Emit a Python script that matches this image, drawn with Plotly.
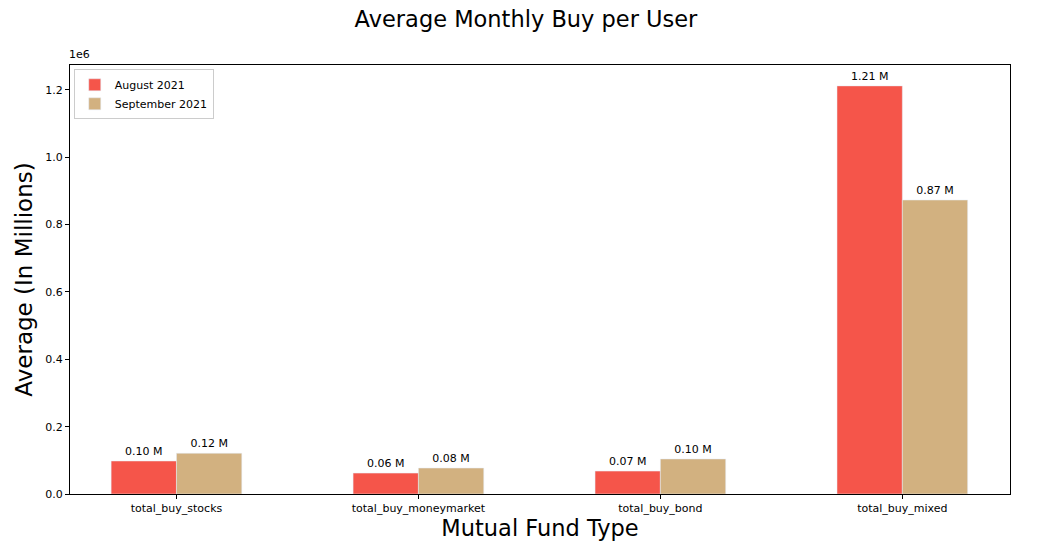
import plotly.graph_objects as go

categories = ["total_buy_stocks", "total_buy_moneymarket", "total_buy_bond", "total_buy_mixed"]
aug_2021 = [98000, 62000, 68000, 1212000]
sep_2021 = [121000, 77000, 104000, 873000]
aug_labels = ["0.10 M", "0.06 M", "0.07 M", "1.21 M"]
sep_labels = ["0.12 M", "0.08 M", "0.10 M", "0.87 M"]
y_ticks = [0, 200000, 400000, 600000, 800000, 1000000, 1200000]
y_tick_labels = ["0.0", "0.2", "0.4", "0.6", "0.8", "1.0", "1.2"]

xpos = list(range(len(categories)))
font = "DejaVu Sans"

fig = go.Figure()
fig.add_trace(go.Bar(x=xpos, y=aug_2021, name="August 2021", marker_color="#F5554A",
                     text=aug_labels, textposition="outside", cliponaxis=False,
                     textfont=dict(size=11, color="#000000")))
fig.add_trace(go.Bar(x=xpos, y=sep_2021, name="September 2021", marker_color="#D2B180",
                     text=sep_labels, textposition="outside", cliponaxis=False,
                     textfont=dict(size=11, color="#000000")))

fig.update_layout(
    width=1052, height=547,
    margin=dict(l=70, r=42, t=65, b=53),
    paper_bgcolor="white", plot_bgcolor="white",
    barmode="group", bargap=0.46, bargroupgap=0,
    font=dict(family=font, size=11, color="#000000"),
    title=dict(text="Average Monthly Buy per User", x=0.5, xanchor="center",
               y=0.965, yanchor="middle", font=dict(size=22.5, family=font)),
    legend=dict(x=0.004, y=0.99, xanchor="left", yanchor="top",
                bgcolor="white", bordercolor="#cccccc", borderwidth=1,
                font=dict(size=11), tracegroupgap=0, itemwidth=30),
    xaxis=dict(range=[-0.44, 3.445], tickvals=xpos, ticktext=categories,
               showgrid=False, zeroline=False, showline=True, linecolor="#000000",
               linewidth=1, mirror=True, ticks="outside", ticklen=4, tickcolor="#000000",
               title=dict(text="Mutual Fund Type", font=dict(size=22.5), standoff=3)),
    yaxis=dict(range=[0, 1274000], tickvals=y_ticks, ticktext=y_tick_labels,
               showgrid=False, zeroline=False, showline=True, linecolor="#000000",
               linewidth=1, mirror=True, ticks="outside", ticklen=4, tickcolor="#000000",
               title=dict(text="Average (In Millions)", font=dict(size=23), standoff=6)),
    annotations=[dict(text="1e6", xref="paper", yref="paper", x=-0.003, y=1.005,
                      xanchor="left", yanchor="bottom", showarrow=False,
                      font=dict(size=11))],
)

fig.write_html("out.html")
